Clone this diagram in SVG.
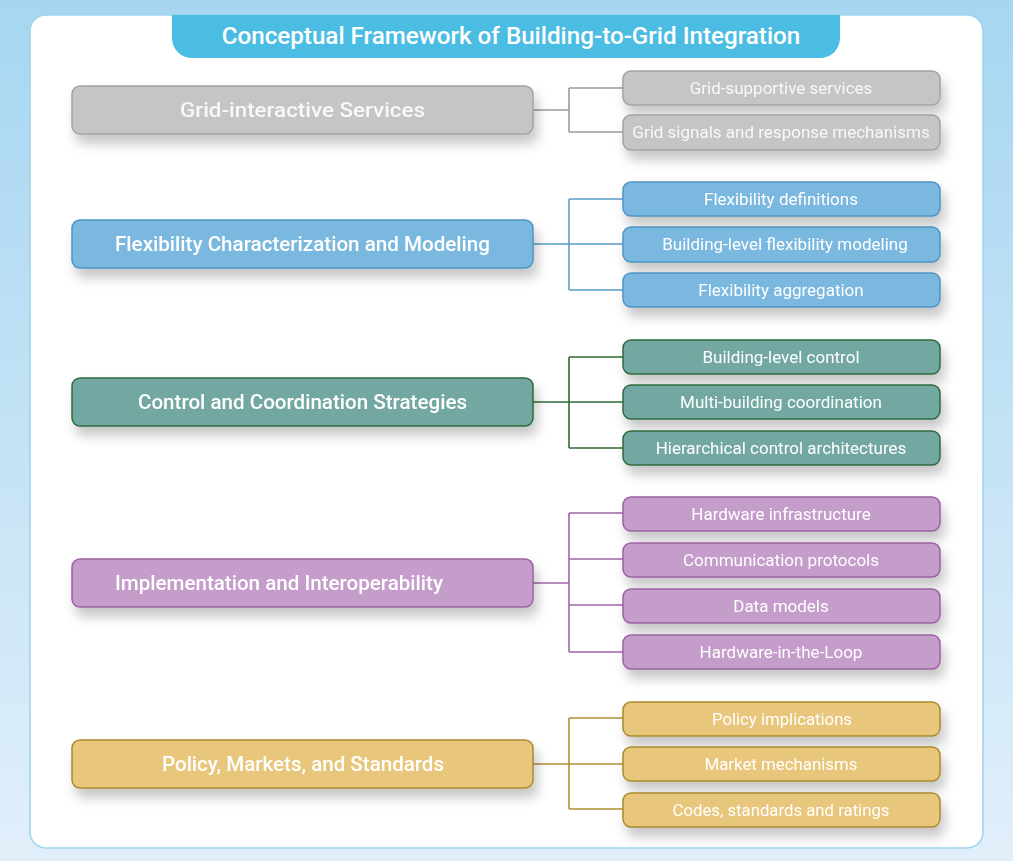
<svg xmlns="http://www.w3.org/2000/svg" width="1013" height="861" viewBox="0 0 1013 861">
<defs>
<linearGradient id="bg" x1="0" y1="0" x2="0" y2="1">
<stop offset="0" stop-color="#a6d6f1"/>
<stop offset="1" stop-color="#e1effa"/>
</linearGradient>
<filter id="sh" x="-10%" y="-30%" width="125%" height="190%">
<feDropShadow dx="4" dy="9" stdDeviation="6" flood-color="#000" flood-opacity="0.22"/>
</filter>
<style>
.t{font-family:Roboto,"Liberation Sans",sans-serif;fill:#fff;text-anchor:middle;dominant-baseline:central}
.m{font-size:21px;font-weight:500}
.s{font-size:17px}
.c{fill:none;stroke-width:1.6}
.gray rect{fill:#c5c5c7;stroke:#a2a2a4;stroke-width:1.5}
.gray text{fill:#f8f8f8}
.blue rect{fill:#7ab8e0;stroke:#4f94c2;stroke-width:1.5}
.green rect{fill:#72a8a1;stroke:#2f6b3c;stroke-width:1.5}
.purple rect{fill:#c59dca;stroke:#9b61a2;stroke-width:1.5}
.gold rect{fill:#e8c67b;stroke:#a98a2b;stroke-width:1.5}
</style>
</defs>
<rect width="1013" height="861" fill="url(#bg)"/>
<rect x="30" y="15" width="953" height="833" rx="16" fill="#fff" stroke="#9dd3ec" stroke-width="1.5"/>
<g id="title">
<path d="M172 15 H840 V38 A20 20 0 0 1 820 58 H192 A20 20 0 0 1 172 38 Z" fill="#4bbde3"/>
<text class="t" x="511" y="36" font-size="24.2" font-weight="500">Conceptual Framework of Building-to-Grid Integration</text>
</g>
<g id="connectors">
<path class="c" stroke="#9c9c9e" d="M533 110 H569 M569 88 V132 M569 88 H623 M569 132 H623"/>
<path class="c" stroke="#5a9fcb" d="M533 244 H569 M569 199 V290 M569 199 H623 M569 244 H623 M569 290 H623"/>
<path class="c" stroke="#2f6b36" d="M533 402 H569 M569 357 V448 M569 357 H623 M569 402 H623 M569 448 H623"/>
<path class="c" stroke="#a064a8" d="M533 583 H569 M569 513 V652 M569 513 H623 M569 559 H623 M569 605 H623 M569 652 H623"/>
<path class="c" stroke="#b09232" d="M533 764 H569 M569 718 V809 M569 718 H623 M569 764 H623 M569 809 H623"/>
</g>
<g class="gray">
<g id="n-grid" filter="url(#sh)"><rect x="72" y="86" width="461" height="48" rx="8"/><text class="t m" x="302.5" y="110" textLength="245" lengthAdjust="spacingAndGlyphs">Grid-interactive Services</text></g>
<g id="n-grid-1" filter="url(#sh)"><rect x="623" y="71" width="317" height="34" rx="8"/><text class="t s" x="781" y="88">Grid-supportive services</text></g>
<g id="n-grid-2" filter="url(#sh)"><rect x="623" y="115" width="317" height="35" rx="8"/><text class="t s" x="781" y="132">Grid signals and response mechanisms</text></g>
</g>
<g class="blue">
<g id="n-flex" filter="url(#sh)"><rect x="72" y="220" width="461" height="48" rx="8"/><text class="t m" x="302.5" y="244" textLength="375" lengthAdjust="spacingAndGlyphs">Flexibility Characterization and Modeling</text></g>
<g id="n-flex-1" filter="url(#sh)"><rect x="623" y="182" width="317" height="34" rx="8"/><text class="t s" x="781" y="199">Flexibility definitions</text></g>
<g id="n-flex-2" filter="url(#sh)"><rect x="623" y="227" width="317" height="35" rx="8"/><text class="t s" x="785" y="244">Building-level flexibility modeling</text></g>
<g id="n-flex-3" filter="url(#sh)"><rect x="623" y="273" width="317" height="34" rx="8"/><text class="t s" x="781" y="290">Flexibility aggregation</text></g>
</g>
<g class="green">
<g id="n-ctrl" filter="url(#sh)"><rect x="72" y="378" width="461" height="48" rx="8"/><text class="t m" x="302.5" y="402" textLength="329" lengthAdjust="spacingAndGlyphs">Control and Coordination Strategies</text></g>
<g id="n-ctrl-1" filter="url(#sh)"><rect x="623" y="340" width="317" height="34" rx="8"/><text class="t s" x="781" y="357">Building-level control</text></g>
<g id="n-ctrl-2" filter="url(#sh)"><rect x="623" y="385" width="317" height="34" rx="8"/><text class="t s" x="781" y="402">Multi-building coordination</text></g>
<g id="n-ctrl-3" filter="url(#sh)"><rect x="623" y="431" width="317" height="34" rx="8"/><text class="t s" x="781" y="448">Hierarchical control architectures</text></g>
</g>
<g class="purple">
<g id="n-impl" filter="url(#sh)"><rect x="72" y="559" width="461" height="48" rx="8"/><text class="t m" x="279" y="583" textLength="328" lengthAdjust="spacingAndGlyphs">Implementation and Interoperability</text></g>
<g id="n-impl-1" filter="url(#sh)"><rect x="623" y="497" width="317" height="34" rx="8"/><text class="t s" x="781" y="514">Hardware infrastructure</text></g>
<g id="n-impl-2" filter="url(#sh)"><rect x="623" y="543" width="317" height="34" rx="8"/><text class="t s" x="781" y="560">Communication protocols</text></g>
<g id="n-impl-3" filter="url(#sh)"><rect x="623" y="589" width="317" height="34" rx="8"/><text class="t s" x="781" y="606">Data models</text></g>
<g id="n-impl-4" filter="url(#sh)"><rect x="623" y="635" width="317" height="34" rx="8"/><text class="t s" x="781" y="652">Hardware-in-the-Loop</text></g>
</g>
<g class="gold">
<g id="n-pol" filter="url(#sh)"><rect x="72" y="740" width="461" height="48" rx="8"/><text class="t m" x="303" y="764" textLength="282" lengthAdjust="spacingAndGlyphs">Policy, Markets, and Standards</text></g>
<g id="n-pol-1" filter="url(#sh)"><rect x="623" y="702" width="317" height="34" rx="8"/><text class="t s" x="782" y="719" textLength="140" lengthAdjust="spacingAndGlyphs">Policy implications</text></g>
<g id="n-pol-2" filter="url(#sh)"><rect x="623" y="747" width="317" height="34" rx="8"/><text class="t s" x="781" y="764" textLength="153" lengthAdjust="spacingAndGlyphs">Market mechanisms</text></g>
<g id="n-pol-3" filter="url(#sh)"><rect x="623" y="793" width="317" height="34" rx="8"/><text class="t s" x="781" y="810" textLength="217" lengthAdjust="spacingAndGlyphs">Codes, standards and ratings</text></g>
</g>
</svg>
